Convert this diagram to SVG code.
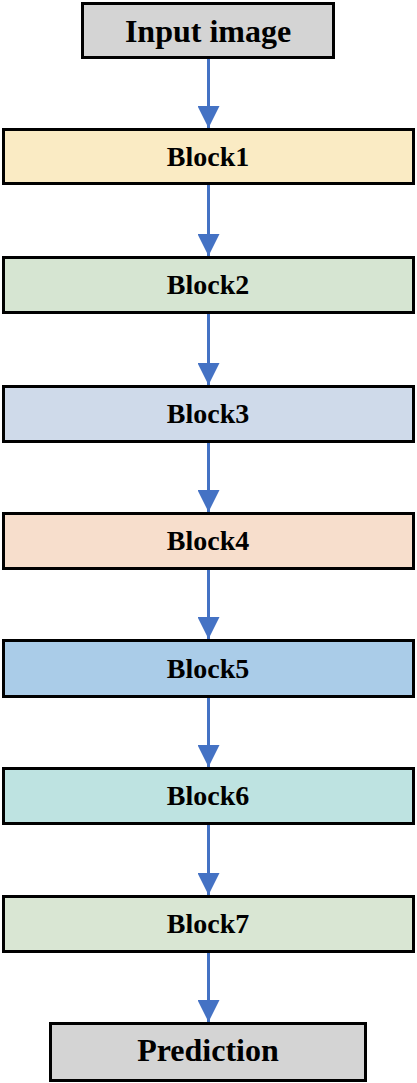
<svg xmlns="http://www.w3.org/2000/svg" width="417" height="1083" viewBox="0 0 417 1083">
<style>
.box{stroke:#000;stroke-width:3}
.lbl{font-family:"Liberation Serif","Times New Roman",serif;font-weight:bold;fill:#000;text-anchor:middle}
.big{font-size:32px}
.blk{font-size:28px}
.conn{stroke:#4472C4;stroke-width:3;fill:none}
</style>
<defs>
<marker id="ah" markerUnits="userSpaceOnUse" markerWidth="22" markerHeight="22" refX="22" refY="11" orient="auto" viewBox="0 0 22 22">
<path d="M0,0 L22,11 L0,22 z" fill="#4472C4"/>
</marker>
</defs>
<rect width="417" height="1083" fill="#fff"/>
<g id="connectors">
<line class="conn" x1="208.5" y1="59" x2="208.5" y2="128" marker-end="url(#ah)"/>
<line class="conn" x1="208.5" y1="185" x2="208.5" y2="256" marker-end="url(#ah)"/>
<line class="conn" x1="208.5" y1="314" x2="208.5" y2="385" marker-end="url(#ah)"/>
<line class="conn" x1="208.5" y1="443" x2="208.5" y2="512" marker-end="url(#ah)"/>
<line class="conn" x1="208.5" y1="570" x2="208.5" y2="639" marker-end="url(#ah)"/>
<line class="conn" x1="208.5" y1="698" x2="208.5" y2="767" marker-end="url(#ah)"/>
<line class="conn" x1="208.5" y1="825" x2="208.5" y2="895" marker-end="url(#ah)"/>
<line class="conn" x1="208.5" y1="953" x2="208.5" y2="1022" marker-end="url(#ah)"/>
</g>
<g id="input">
<rect class="box" x="82.5" y="3.5" width="251" height="54" fill="#D4D4D4"/>
<text class="lbl big" x="208" y="42">Input image</text>
</g>
<g id="block1">
<rect class="box" x="3.5" y="129.5" width="410" height="54" fill="#FAEBC4"/>
<text class="lbl blk" x="208" y="166">Block1</text>
</g>
<g id="block2">
<rect class="box" x="3.5" y="257.5" width="410" height="55" fill="#D6E5D2"/>
<text class="lbl blk" x="208" y="294">Block2</text>
</g>
<g id="block3">
<rect class="box" x="3.5" y="386.5" width="410" height="55" fill="#CFDAEA"/>
<text class="lbl blk" x="208" y="423">Block3</text>
</g>
<g id="block4">
<rect class="box" x="3.5" y="513.5" width="410" height="55" fill="#F7DECC"/>
<text class="lbl blk" x="208" y="550">Block4</text>
</g>
<g id="block5">
<rect class="box" x="3.5" y="640.5" width="410" height="56" fill="#AACCE8"/>
<text class="lbl blk" x="208" y="678">Block5</text>
</g>
<g id="block6">
<rect class="box" x="3.5" y="768.5" width="410" height="55" fill="#BEE3E1"/>
<text class="lbl blk" x="208" y="805">Block6</text>
</g>
<g id="block7">
<rect class="box" x="3.5" y="896.5" width="410" height="55" fill="#D9E6D3"/>
<text class="lbl blk" x="208" y="933">Block7</text>
</g>
<g id="prediction">
<rect class="box" x="50.5" y="1023.5" width="315" height="57" fill="#D4D4D4"/>
<text class="lbl big" x="208" y="1061">Prediction</text>
</g>
</svg>
